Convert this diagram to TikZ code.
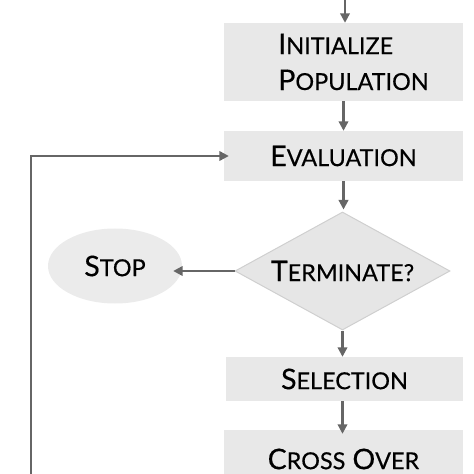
\documentclass[tikz,border=0pt]{standalone}
\usepackage{fontspec}
\setmainfont{Lato}[FakeBold=0.4]
\usetikzlibrary{arrows.meta,shapes.geometric}
\definecolor{boxfill}{HTML}{E8E8E8}
\definecolor{diafill}{HTML}{E6E6E6}
\definecolor{diaedge}{HTML}{CFCFCF}
\definecolor{ellfill}{HTML}{EBEBEB}
\definecolor{arrowgray}{HTML}{666666}
\newcommand{\sch}[2]{{\fontsize{28.5}{36}\selectfont #1}{\fontsize{23.5}{36}\selectfont #2}}
\begin{document}
\begin{tikzpicture}[x=1bp,y=-1bp,
  procbox/.style={rectangle, fill=boxfill, draw=none, inner sep=0pt,
    minimum width=239bp, text=black, font=\fontsize{28}{36}\selectfont},
  decbox/.style={diamond, fill=diafill, draw=diaedge, line width=1bp, inner sep=0pt,
    aspect=1.82, minimum width=215bp, minimum height=118bp, font=\fontsize{28}{36}\selectfont},
  endbox/.style={ellipse, fill=ellfill, draw=none, inner sep=0pt,
    minimum width=134bp, minimum height=75bp, font=\fontsize{28}{36}\selectfont},
  arr/.style={draw=arrowgray, line width=2.2bp, -{Triangle[length=9.5bp,width=9.5bp]}}]
\useasboundingbox (0,0) rectangle (474,474);
\node[procbox, minimum height=78bp, align=left] (init) at (343.5,62)
  {\hspace*{20bp}\sch{I}{NITIALIZE}\\\hspace*{20bp}\sch{P}{OPULATION}};
\node[procbox, minimum height=50bp] (eval) at (343.5,156) {\sch{E}{VALUATION}};
\node[decbox] (dia) at (342.5,271) {\sch{T}{ERMINATE?}};
\node[endbox] (stop) at (115,266) {\raisebox{-4bp}{\sch{S}{TOP}}\hspace{10bp}};
\node[procbox, minimum width=237bp, minimum height=44bp] (sel) at (344.5,379) {\raisebox{-3bp}{\sch{S}{ELECTION}}};
\node[procbox, minimum height=58bp] (cross) at (343.5,459) {\sch{C}{ROSS} \sch{O}{VER}};
\coordinate (topin) at (345,-2);
\coordinate (fb) at (31,480);
\draw[arr] (topin) -- (topin |- init.north);
\draw[arr] (init.south) -- (eval.north);
\draw[arr, shorten >=2bp] (eval.south) -- (eval.south |- dia.north);
\draw[arr, shorten >=-9bp] (dia.west) -- (dia.west -| stop.east);
\draw[arr] (dia.south) -- (dia.south |- sel.north);
\draw[arr, shorten >=-4bp] (sel.south -| dia.south) -- (dia.south |- cross.north);
\draw[arr, shorten >=-5bp] (fb) |- (eval.west);
\end{tikzpicture}
\end{document}
